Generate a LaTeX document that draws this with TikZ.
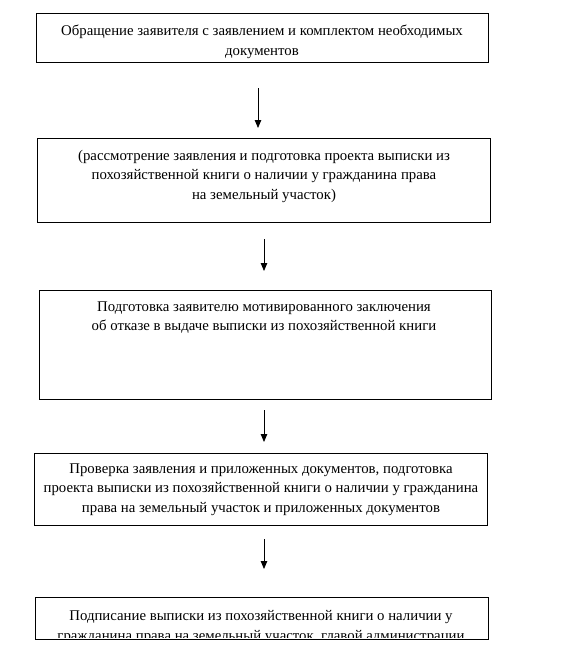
\documentclass[tikz,border=0pt]{standalone}
\usepackage{fontspec}
\setmainfont{Liberation Serif}
\usetikzlibrary{arrows.meta}
\begin{document}
\begin{tikzpicture}[x=1pt,y=-1pt,
  frame/.style={draw=black,line width=0.9pt,rectangle,inner sep=0pt},
  txt/.style={anchor=north,align=center,inner sep=0pt,font=\fontsize{14.8}{19.4}\selectfont},
  flow/.style={draw=black,line width=0.8pt,-{Triangle[width=6.5pt,length=8pt]}}]
\useasboundingbox (0,0) rectangle (569,656);
\fill[white] (0,0) rectangle (569,656);
% boxes
\node[frame,minimum width=452pt,minimum height=49pt] (box1) at (262,37.5) {};
\node[frame,minimum width=453pt,minimum height=84pt] (box2) at (263.5,180) {};
\node[frame,minimum width=452pt,minimum height=109pt] (box3) at (265,344.5) {};
\node[frame,minimum width=453pt,minimum height=72pt] (box4) at (260.5,489) {};
\node[frame,minimum width=453pt,minimum height=42pt] (box5) at (261.5,618) {};
% texts
\node[txt] (t1) at (262,25) {Обращение заявителя с заявлением и комплектом необходимых\\документов};
\node[txt] (t2) at (264,150) {(рассмотрение заявления и подготовка проекта выписки из\\похозяйственной книги о наличии у гражданина права\\на земельный участок)};
\node[txt] (t3) at (264,301.5) {Подготовка заявителю мотивированного заключения\\об отказе в выдаче выписки из похозяйственной книги};
\node[txt] (t4) at (261,463.5) {Проверка заявления и приложенных документов, подготовка\\проекта выписки из похозяйственной книги о наличии у гражданина\\права на земельный участок и приложенных документов};
\begin{scope}
\clip (36,598) rectangle (487,637);
\node[txt] (t5) at (261,610.5) {Подписание выписки из похозяйственной книги о наличии у\\гражданина права на земельный участок, главой администрации};
\end{scope}
% arrows
\coordinate (a1s) at (258,88);  \coordinate (a1e) at (258,128);
\coordinate (a2s) at (264,239); \coordinate (a2e) at (264,271);
\coordinate (a3s) at (264,410); \coordinate (a3e) at (264,442);
\coordinate (a4s) at (264,539); \coordinate (a4e) at (264,569);
\draw[flow] (a1s) -- (a1e);
\draw[flow] (a2s) -- (a2e);
\draw[flow] (a3s) -- (a3e);
\draw[flow] (a4s) -- (a4e);
\end{tikzpicture}
\end{document}
